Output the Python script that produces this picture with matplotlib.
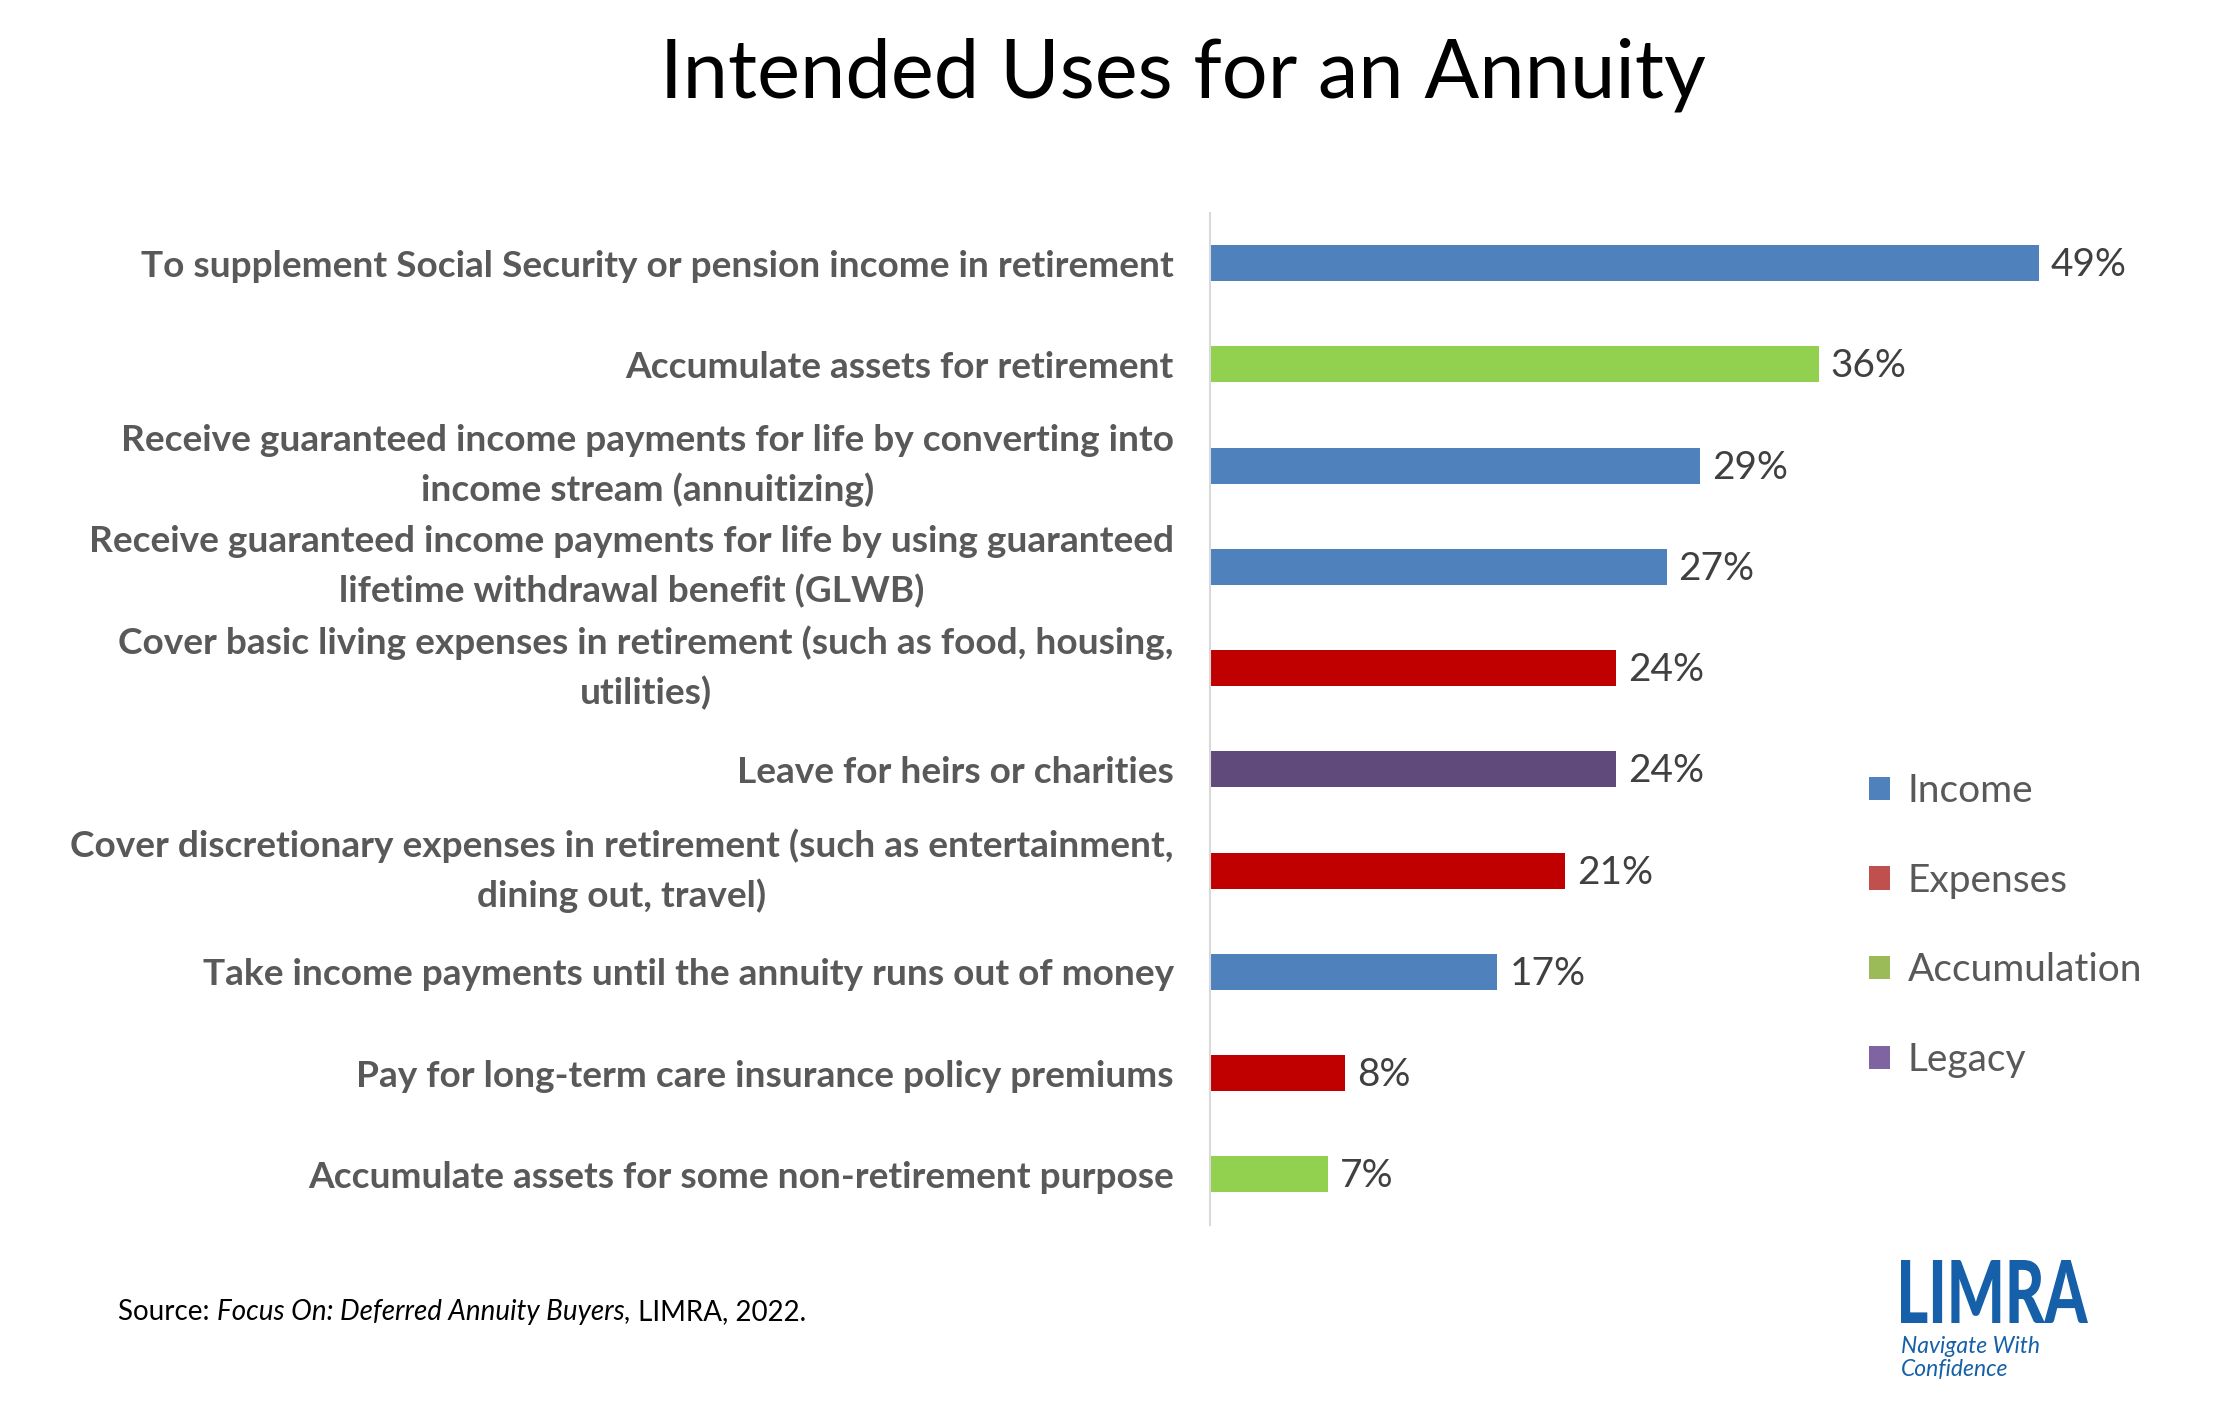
import matplotlib.pyplot as plt
from matplotlib.patches import Patch, PathPatch
from matplotlib.textpath import TextPath
from matplotlib.font_manager import FontProperties
from matplotlib.transforms import Affine2D

categories = [
    "To supplement Social Security or pension income in retirement",
    "Accumulate assets for retirement",
    "Receive guaranteed income payments for life by converting into\nincome stream (annuitizing)",
    "Receive guaranteed income payments for life by using guaranteed\nlifetime withdrawal benefit (GLWB)",
    "Cover basic living expenses in retirement (such as food, housing,\nutilities)",
    "Leave for heirs or charities",
    "Cover discretionary expenses in retirement (such as entertainment,\ndining out, travel)",
    "Take income payments until the annuity runs out of money",
    "Pay for long-term care insurance policy premiums",
    "Accumulate assets for some non-retirement purpose",
]
values = [49, 36, 29, 27, 24, 24, 21, 17, 8, 7]
groups = ["Income", "Accumulation", "Income", "Income", "Expenses",
          "Legacy", "Expenses", "Income", "Expenses", "Accumulation"]

bar_colors = {"Income": "#4F81BD", "Expenses": "#C00000",
              "Accumulation": "#92D050", "Legacy": "#604A7B"}
legend_colors = {"Income": "#4F81BD", "Expenses": "#C0504D",
                 "Accumulation": "#9BBB59", "Legacy": "#8064A2"}
legend_order = ["Income", "Expenses", "Accumulation", "Legacy"]

FONT = "Lato"
W, H = 2220, 1414

fig = plt.figure(figsize=(22.2, 14.14), dpi=100)
r = fig.canvas.get_renderer()


def fit_size(text, target_px, base=20, **kw):
    t = fig.text(0, 0, text, fontsize=base, **kw)
    w = t.get_window_extent(r).width
    t.remove()
    return base * target_px / w


ax = fig.add_axes([0.545, 0.1337, 0.381, 0.716])

pos = list(range(len(values)))
ax.barh(pos, values, height=0.355, color=[bar_colors[g] for g in groups])
ax.set_ylim(9.5, -0.5)
ax.set_xlim(0, 50)

val_size = fit_size("49%", 76, family=FONT)
for p, v in zip(pos, values):
    ax.text(v + 0.7, p + 0.02, f"{v}%", va="center", ha="left", fontsize=val_size,
            color="#404040", family=FONT, clip_on=False)

lab_size = fit_size(categories[0], 1032, family=FONT, fontweight="bold")
ax.set_yticks(pos)
ax.set_yticklabels(categories, fontsize=lab_size, fontweight="bold", color="#595959",
                   family=FONT, linespacing=1.55)
for lab in ax.get_yticklabels():
    lab.set_multialignment("center")
    if "\n" in lab.get_text():
        lab.set_verticalalignment("center")
ax.tick_params(axis="y", length=0, pad=26)
ax.set_xticks([])
for s in ["top", "right", "bottom"]:
    ax.spines[s].set_visible(False)
ax.spines["left"].set_color("#D9D9D9")
ax.spines["left"].set_linewidth(1.5)

handles = [Patch(facecolor=legend_colors[g], label=g) for g in legend_order]
fig.legend(handles=handles, loc="upper left", bbox_to_anchor=(0.826, 0.478),
           frameon=False, prop={"family": FONT, "size": 28},
           labelcolor="#595959", handlelength=0.55, handleheight=0.55,
           handletextpad=0.45, labelspacing=1.38)

title_size = fit_size("Intended Uses for an Annuity", 1048, family=FONT)
fig.text(0.533, 0.947, "Intended Uses for an Annuity", ha="center", va="center",
         fontsize=title_size, color="black", family=FONT)

# source line built from pieces
x = 118
for part, st in [("Source: ", "normal"), ("Focus On: Deferred Annuity Buyers,", "italic"),
                 (" LIMRA, 2022.", "normal")]:
    t = fig.text(x / W, 1 - 1312 / H, part, fontsize=20, family=FONT,
                 style=st, va="center", ha="left")
    x += t.get_window_extent(r).width

# logo: block letters stretched into the box of the original mark
tp = TextPath((0, 0), "LIMRA", size=100, prop=FontProperties(family=FONT, weight="black"))
bb = tp.get_extents()
x0, x1, y0, y1 = 1901, 2088, H - 1323, H - 1260
tr = (Affine2D().translate(-bb.x0, -bb.y0)
      .scale((x1 - x0) / bb.width, (y1 - y0) / bb.height)
      .translate(x0, y0))
fig.patches.append(PathPatch(tr.transform_path(tp), facecolor="#1560A8",
                             edgecolor="none", transform=None, figure=fig))
fig.text(1901 / W, 1 - 1358 / H, "Navigate With\nConfidence", fontsize=16.5, style="italic",
         color="#1560A8", family=FONT, va="center", ha="left", linespacing=1.1)

fig.savefig("out.png", dpi=100, facecolor="white")
